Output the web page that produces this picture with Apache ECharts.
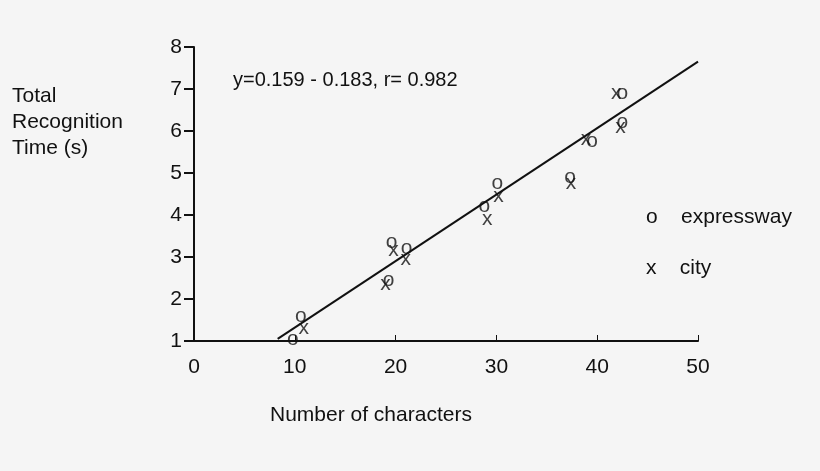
<!DOCTYPE html>
<html>
<head>
<meta charset="utf-8">
<script src="https://cdn.jsdelivr.net/npm/echarts@6/dist/echarts.min.js"></script>
<style>html,body{margin:0;height:100%;background:#f5f5f5}#main{width:820px;height:471px}</style>
</head>
<body>
<div id="main"></div>
<script>
var expressway = [[9.8,1.05],[10.6,1.6],[19.6,3.35],[21.1,3.2],[19.3,2.45],[28.8,4.2],[30.1,4.75],[37.3,4.9],[39.5,5.75],[42.5,6.9],[42.5,6.2]];
var city = [[10.9,1.3],[19.0,2.35],[19.8,3.15],[21.0,2.95],[29.1,3.9],[30.2,4.45],[37.4,4.75],[38.9,5.8],[41.9,6.9],[42.3,6.1]];
var fitLine = [[8.3,1.05],[50,7.65]];
var xTicks = [0,10,20,30,40,50];

var font = 'Liberation Sans';
function marks(name, data, ch) {
    return {
        name: name, type: 'scatter', data: data, symbolSize: 1,
        itemStyle: {color: 'transparent'},
        label: {show: true, position: 'inside', formatter: ch, color: '#111', fontSize: 21, fontFamily: font}
    };
}
var chart = echarts.init(document.getElementById('main'));
chart.setOption({
    backgroundColor: '#f5f5f5',
    grid: {left: 194, right: 122, top: 47, bottom: 130},
    xAxis: {
        type: 'value', min: 0, max: 50, interval: 10,
        axisLine: {lineStyle: {color: '#111', width: 2}},
        axisTick: {inside: true, length: 6, lineStyle: {color: '#111'}},
        axisLabel: {color: '#111', fontSize: 21, fontFamily: font, margin: 16,
            formatter: function (v) { return xTicks.indexOf(v) >= 0 ? v : ''; }},
        splitLine: {show: false}
    },
    yAxis: {
        type: 'value', min: 1, max: 8, interval: 1,
        axisLine: {show: true, lineStyle: {color: '#111', width: 2}},
        axisTick: {length: 10, lineStyle: {color: '#111', width: 2}},
        axisLabel: {color: '#111', fontSize: 21, fontFamily: font, margin: 12},
        splitLine: {show: false}
    },
    graphic: [
        {type: 'text', left: 12, top: 83, style: {text: 'Total\nRecognition\nTime (s)', fontSize: 21, lineHeight: 26, fontFamily: font, fill: '#111'}},
        {type: 'text', left: 233, top: 70, style: {text: 'y=0.159 - 0.183, r= 0.982', fontSize: 20, fontFamily: font, fill: '#111'}},
        {type: 'text', left: 646, top: 207, style: {text: 'o    expressway', fontSize: 21, fontFamily: font, fill: '#111'}},
        {type: 'text', left: 646, top: 258, style: {text: 'x    city', fontSize: 21, fontFamily: font, fill: '#111'}},
        {type: 'text', left: 270, top: 405, style: {text: 'Number of characters', fontSize: 21, fontFamily: font, fill: '#111'}}
    ],
    series: [
        {type: 'line', data: fitLine, symbol: 'none', lineStyle: {color: '#111', width: 2}, z: 1},
        marks('expressway', expressway, 'o'),
        marks('city', city, 'x')
    ]
});
</script>
</body>
</html>
